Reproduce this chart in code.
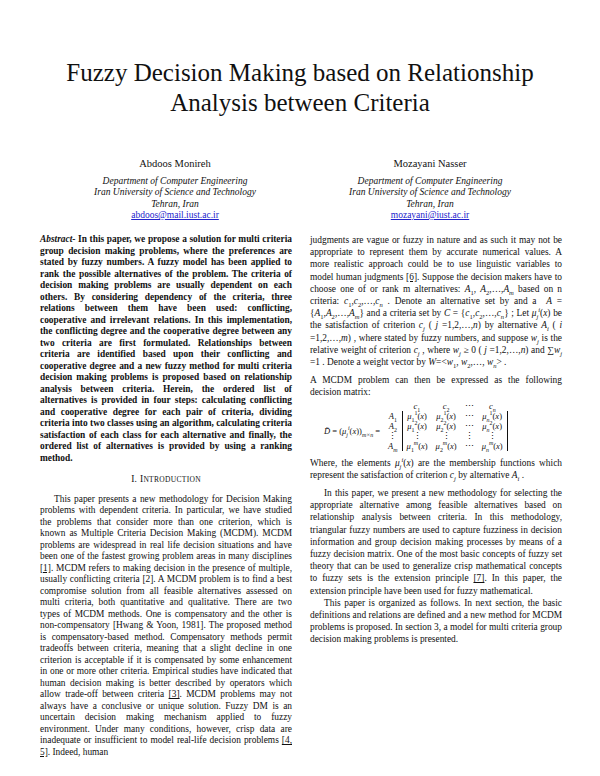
<!DOCTYPE html>
<html><head><meta charset="utf-8">
<script src="https://cdn.jsdelivr.net/npm/chart.js@4"></script>
<style>
body{margin:0;width:600px;height:776px;background:#fff;font-family:"Liberation Serif","DejaVu Serif",serif;color:#111;position:relative;overflow:hidden}
.title{position:absolute;top:58px;left:0;width:600px;text-align:center;font-size:25px;line-height:30px}
.auth{position:absolute;top:158px;width:250px;text-align:center;font-size:9.5px;line-height:11.5px}
.auth b{font-weight:normal;font-size:10.5px;display:block;margin-bottom:6px}
.auth a{color:#22c;text-decoration:underline}
.col{position:absolute;top:234px;width:252px;font-size:9.4px;line-height:11.5px;text-align:justify}
.col p{margin:0}
sub,sup{line-height:0;font-size:70%}
.ind{text-indent:14px}
h3{font-weight:normal;text-align:center;font-size:9.5px;margin:10px 0 8px;letter-spacing:.3px}
table.mat{font-size:8.5px;margin:2px 0 6px 10px;border-collapse:collapse}
table.mat td{padding:0 4px;line-height:10px;text-align:center}
.br{border-left:1px solid #111;border-right:1px solid #111}
</style></head><body>
<div class="title">Fuzzy Decision Making based on Relationship<br>Analysis between Criteria</div>
<div class="auth" style="left:50px"><b>Abdoos Monireh</b><i>Department of Computer Engineering<br>Iran University of Science and Technology</i><br><i>Tehran, Iran</i><br><a>abdoos@mail.iust.ac.ir</a></div>
<div class="auth" style="left:305px"><b>Mozayani Nasser</b><i>Department of Computer Engineering<br>Iran University of Science and Technology</i><br><i>Tehran, Iran</i><br><a>mozayani@iust.ac.ir</a></div>
<div class="col" style="left:40px"><p><b><i>Abstract</i>- In this paper, we propose a solution for multi criteria group decision making problems, where the preferences are stated by fuzzy numbers. A fuzzy model has been applied to rank the possible alternatives of the problem. The criteria of decision making problems are usually dependent on each others. By considering dependency of the criteria, three relations between them have been used: conflicting, cooperative and irrelevant relations. In this implementation, the conflicting degree and the cooperative degree between any two criteria are first formulated. Relationships between criteria are identified based upon their conflicting and cooperative degree and a new fuzzy method for multi criteria decision making problems is proposed based on relationship analysis between criteria. Herein, the ordered list of alternatives is provided in four steps: calculating conflicting and cooperative degree for each pair of criteria, dividing criteria into two classes using an algorithm, calculating criteria satisfaction of each class for each alternative and finally, the ordered list of alternatives is provided by using a ranking method.</b></p>
<h3>I. I<span style="font-size:7.5px">NTRODUCTION</span></h3>
<p class="ind">This paper presents a new methodology for Decision Making problems with dependent criteria. In particular, we have studied the problems that consider more than one criterion, which is known as Multiple Criteria Decision Making (MCDM). MCDM problems are widespread in real life decision situations and have been one of the fastest growing problem areas in many disciplines <u>[1]</u>. MCDM refers to making decision in the presence of multiple, usually conflicting criteria [2]. A MCDM problem is to find a best compromise solution from all feasible alternatives assessed on multi criteria, both quantitative and qualitative. There are two types of MCDM methods. One is compensatory and the other is non-compensatory [Hwang &amp; Yoon, 1981]. The proposed method is compensatory-based method. Compensatory methods permit tradeoffs between criteria, meaning that a slight decline in one criterion is acceptable if it is compensated by some enhancement in one or more other criteria. Empirical studies have indicated that human decision making is better described by operators which allow trade-off between criteria <u>[3]</u>. MCDM problems may not always have a conclusive or unique solution. Fuzzy DM is an uncertain decision making mechanism applied to fuzzy environment. Under many conditions, however, crisp data are inadequate or insufficient to model real-life decision problems <u>[4, 5]</u>. Indeed, human</p></div>
<div class="col" style="left:310px;line-height:12.2px"><p>judgments are vague or fuzzy in nature and as such it may not be appropriate to represent them by accurate numerical values. A more realistic approach could be to use linguistic variables to model human judgments <u>[6]</u>. Suppose the decision makers have to choose one of or rank m alternatives: <i>A</i><sub>1</sub>, <i>A</i><sub>2</sub>,…,<i>A<sub>m</sub></i> based on n criteria: <i>c</i><sub>1</sub>,<i>c</i><sub>2</sub>,…,<i>c<sub>n</sub></i> . Denote an alternative set by and a &nbsp;<i>A</i> = {<i>A</i><sub>1</sub>,<i>A</i><sub>2</sub>,…,<i>A<sub>m</sub></i>} and a criteria set by <i>C</i> = {<i>c</i><sub>1</sub>,<i>c</i><sub>2</sub>,…,<i>c<sub>n</sub></i>} ; Let <i>μ<sub>j</sub><sup>i</sup></i>(<i>x</i>) be the satisfaction of criterion <i>c<sub>j</sub></i> ( <i>j</i> =1,2,…,<i>n</i>) by alternative <i>A<sub>i</sub></i> ( <i>i</i> =1,2,…,<i>m</i>) , where stated by fuzzy numbers, and suppose <i>w<sub>j</sub></i> is the relative weight of criterion <i>c<sub>j</sub></i> , where <i>w<sub>j</sub></i> ≥ 0 ( <i>j</i> =1,2,…,<i>n</i>) and ∑<i>w<sub>j</sub></i> =1 . Denote a weight vector by <i>W</i>=&lt;<i>w</i><sub>1</sub>, <i>w</i><sub>2</sub>,…, <i>w<sub>n</sub></i>&gt; .</p>
<p style="margin-top:6px">A MCDM problem can then be expressed as the following decision matrix:</p>
<table class="mat">
<tr><td></td><td></td><td><i>c</i><sub>1</sub></td><td><i>c</i><sub>2</sub></td><td>⋯</td><td><i>c<sub>n</sub></i></td></tr>
<tr><td rowspan="4"><i>D̃</i> = (<i>μ<sub>j</sub><sup>i</sup></i>(<i>x</i>))<sub><i>m×n</i></sub> =</td><td><i>A</i><sub>1</sub></td><td style="border-left:1px solid #111"><i>μ</i><sub>1</sub><sup>1</sup>(<i>x</i>)</td><td><i>μ</i><sub>2</sub><sup>1</sup>(<i>x</i>)</td><td>⋯</td><td style="border-right:1px solid #111"><i>μ<sub>n</sub></i><sup>1</sup>(<i>x</i>)</td></tr>
<tr><td><i>A</i><sub>2</sub></td><td style="border-left:1px solid #111"><i>μ</i><sub>1</sub><sup>2</sup>(<i>x</i>)</td><td><i>μ</i><sub>2</sub><sup>2</sup>(<i>x</i>)</td><td>⋯</td><td style="border-right:1px solid #111"><i>μ<sub>n</sub></i><sup>2</sup>(<i>x</i>)</td></tr>
<tr><td>⋮</td><td style="border-left:1px solid #111">⋮</td><td>⋮</td><td>⋮</td><td style="border-right:1px solid #111">⋮</td></tr>
<tr><td><i>A<sub>m</sub></i></td><td style="border-left:1px solid #111"><i>μ</i><sub>1</sub><sup><i>m</i></sup>(<i>x</i>)</td><td><i>μ</i><sub>2</sub><sup><i>m</i></sup>(<i>x</i>)</td><td>⋯</td><td style="border-right:1px solid #111"><i>μ<sub>n</sub><sup>m</sup></i>(<i>x</i>)</td></tr>
</table>
<p>Where, the elements <i>μ<sub>j</sub><sup>i</sup></i>(<i>x</i>) are the membership functions which represent the satisfaction of criterion <i>c<sub>j</sub></i> by alternative <i>A<sub>i</sub></i> .</p>
<p class="ind" style="margin-top:6px">In this paper, we present a new methodology for selecting the appropriate alternative among feasible alternatives based on relationship analysis between criteria. In this methodology, triangular fuzzy numbers are used to capture fuzziness in decision information and group decision making processes by means of a fuzzy decision matrix. One of the most basic concepts of fuzzy set theory that can be used to generalize crisp mathematical concepts to fuzzy sets is the extension principle <u>[7]</u>. In this paper, the extension principle have been used for fuzzy mathematical.</p>
<p class="ind">This paper is organized as follows. In next section, the basic definitions and relations are defined and a new method for MCDM problems is proposed. In section 3, a model for multi criteria group decision making problems is presented.</p></div>
</body></html>
